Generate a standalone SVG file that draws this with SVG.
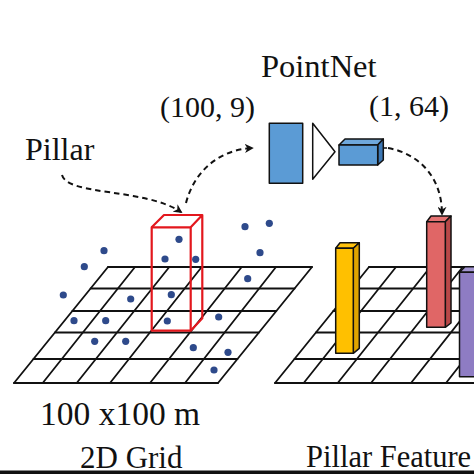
<svg xmlns="http://www.w3.org/2000/svg" width="474" height="474" viewBox="0 0 474 474">
<defs>
<style>
.t{font-family:"Liberation Serif","Times New Roman",serif;fill:#111}
.g{stroke:#111;stroke-width:1.8;fill:none;stroke-linecap:round}
.d{fill:#2e4a8b}
.c{stroke:#111;stroke-width:2;fill:none;stroke-dasharray:5.5 4}
.k{stroke:#111;stroke-width:1.5;stroke-linejoin:round}
</style>
<marker id="ah" viewBox="0 0 10 10" refX="8" refY="5" markerWidth="9" markerHeight="9" markerUnits="userSpaceOnUse" orient="auto">
<path d="M0,0 L10,5 L0,10 L3,5 z" fill="#111"/>
</marker>
</defs>
<rect width="474" height="474" fill="#fff"/>

<g id="grid-left" class="g">
<path d="M108,267H312M90.6,288.5H294.6M72.3,311H276.3M54.9,332.5H258.9M33.5,359H237.5M14,383H218"/>
<path d="M108,267L14,383M135,267L42.7,383M169.3,267L76.7,383M201.7,267L110,383M241.7,267L150,383M276,267L185,383M312,267L218,383"/>
</g>

<g id="points">
<circle class="d" cx="245" cy="226.7" r="3.6"/>
<circle class="d" cx="269.3" cy="223.3" r="3.6"/>
<circle class="d" cx="179" cy="239.3" r="3.6"/>
<circle class="d" cx="104" cy="250.7" r="3.6"/>
<circle class="d" cx="165" cy="259" r="3.6"/>
<circle class="d" cx="195.7" cy="259.3" r="3.6"/>
<circle class="d" cx="260" cy="252.7" r="3.6"/>
<circle class="d" cx="84.3" cy="266.7" r="3.6"/>
<circle class="d" cx="247.7" cy="278.7" r="3.6"/>
<circle class="d" cx="63.3" cy="295" r="3.6"/>
<circle class="d" cx="130.7" cy="299" r="3.6"/>
<circle class="d" cx="171.3" cy="294.7" r="3.6"/>
<circle class="d" cx="74" cy="320.7" r="3.6"/>
<circle class="d" cx="105.7" cy="320.7" r="3.6"/>
<circle class="d" cx="167.3" cy="321" r="3.6"/>
<circle class="d" cx="218.7" cy="317" r="3.6"/>
<circle class="d" cx="94.7" cy="341.3" r="3.6"/>
<circle class="d" cx="125.7" cy="341.3" r="3.6"/>
<circle class="d" cx="193.3" cy="347.7" r="3.6"/>
<circle class="d" cx="228" cy="352.3" r="3.6"/>
<circle class="d" cx="214" cy="370" r="3.6"/>
</g>

<g id="pillar-red-outline" fill="none" stroke="#e3171d" stroke-width="2.2" stroke-linejoin="round">
<rect x="151.7" y="227.3" width="39" height="103.4"/>
<path d="M151.7,227.3L164,215H202.3L190.7,227.3M202.3,215V318.3L190.7,330.7"/>
</g>

<g id="grid-right" class="g">
<path d="M369,267H480M351.6,288.5H480M333.3,311H480M315.9,332.5H480M294.5,359H480M275,383H480"/>
<path d="M369,267L275,383M396,267L303.7,383M430.3,267L337.7,383M462.7,267L371,383M502.7,267L411,383M537,267L446,383M573,267L479,383"/>
</g>

<g id="feature-yellow" class="k">
<path d="M335.7,248.3L340,242.7H359.3L353.3,248.3z" fill="#ffc20e"/>
<path d="M353.3,248.3L359.3,242.7V348.3L353.3,353.3z" fill="#e0a400"/>
<rect x="335.7" y="248.3" width="17.6" height="105" fill="#ffc000"/>
</g>

<g id="feature-red" class="k">
<path d="M426.7,221.7L431,216H451L445.3,221.7z" fill="#e57373"/>
<path d="M445.3,221.7L451,216V323L445.3,327.3z" fill="#b84848"/>
<rect x="426.7" y="221.7" width="18.6" height="105.6" fill="#e06666"/>
</g>

<g id="feature-purple" class="k">
<path d="M459.5,272.3L465,266.7H480V272.3z" fill="#a294d0"/>
<rect x="459.5" y="272.3" width="30" height="104.4" fill="#8e7cc3"/>
</g>

<g id="pointnet">
<rect class="k" x="269.3" y="123.3" width="33.4" height="60" fill="#5b9bd5" stroke="#1f2d4d"/>
<path class="k" d="M312.7,123.3V179.3L335,151.7z" fill="#fff"/>
<path class="k" d="M339,145L345,139H383.3L377.7,145z" fill="#6fa8dc" stroke="#1f2d4d"/>
<path class="k" d="M377.7,145L383.3,139V160L377.7,165z" fill="#3d78b5" stroke="#1f2d4d"/>
<rect class="k" x="339" y="145" width="38.7" height="20" fill="#5b9bd5" stroke="#1f2d4d"/>
</g>

<g id="connectors">
<path class="c" d="M62,175C68,196 145,188 181,212" marker-end="url(#ah)"/>
<path class="c" d="M186,203C194,172 218,150 252,148" marker-end="url(#ah)"/>
<path d="M383.3,148H387" stroke="#111" stroke-width="1.5"/>
<path class="c" d="M388,148C420,154 442,178 442,214" marker-end="url(#ah)"/>
</g>

<g id="labels">
<text class="t" x="261" y="76.5" font-size="32.5">PointNet</text>
<text class="t" x="160" y="116.5" font-size="30">(100, 9)</text>
<text class="t" x="369" y="115.5" font-size="30">(1, 64)</text>
<text class="t" x="25" y="159.5" font-size="32">Pillar</text>
<text class="t" x="40" y="425" font-size="33.5">100 x100 m</text>
<text class="t" x="80" y="468" font-size="31">2D Grid</text>
<text class="t" x="306" y="467" font-size="30.5">Pillar Feature</text>
</g>
<rect id="baseline-bar" x="0" y="470.5" width="474" height="3.5" fill="#111"/>
</svg>
